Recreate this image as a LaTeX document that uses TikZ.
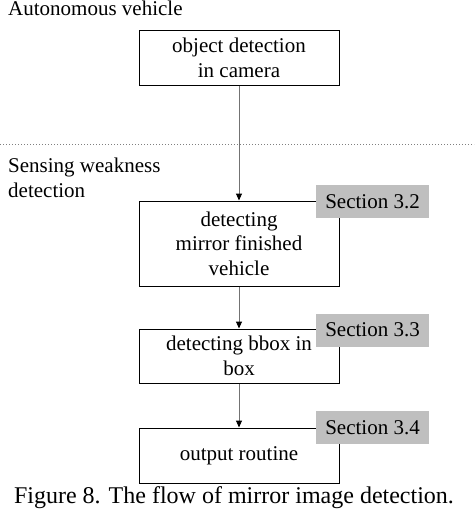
\documentclass[tikz,border=0pt]{standalone}
\usepackage{fontspec}
\setmainfont{Liberation Serif}
\usetikzlibrary{arrows.meta,positioning}
\tikzset{
  flbx/.style={draw=black, line width=1pt, minimum width=200pt, align=center, inner sep=0pt, font=\fontsize{21}{24.5}\selectfont},
  secbx/.style={fill=black!25, minimum width=113pt, minimum height=33pt, inner sep=0pt, font=\fontsize{21}{24}\selectfont},
  flw/.style={draw=black!55, line width=1pt, -{Triangle[length=7pt,width=6pt,color=black]}},
  lbl/.style={inner sep=0pt, align=left, font=\fontsize{21}{25}\selectfont}
}
\begin{document}
\begin{tikzpicture}[x=1pt,y=-1pt]
\useasboundingbox (0,0) rectangle (474,511);
\node[lbl, anchor=base west] (av) at (8,16) {Autonomous vehicle};
\draw[black!50, dotted, line width=1pt] (0,144) -- (474,144);
\node[lbl, anchor=west] (sw) at (8,178) {Sensing weakness\\detection};

\node[flbx, minimum height=54pt] (od) at (239,58) {object detection\\in camera};
\node[flbx, minimum height=85pt] (mf) at (239,243.5) {detecting\\mirror finished\\vehicle};
\node[flbx, minimum height=54pt] (bb) at (239,356) {detecting bbox in\\box};
\node[flbx, minimum height=55pt] (out) at (239,455.5) {output routine};

\node[secbx] (s32) at (372.5,201.5) {Section 3.2};
\node[secbx] (s33) at (372.5,330) {Section 3.3};
\node[secbx] (s34) at (372.5,427.5) {Section 3.4};

\draw[flw] (od) -- (mf);
\draw[flw] (mf) -- (bb);
\draw[flw] (bb) -- (out);

\node[anchor=base, inner sep=0pt, font=\fontsize{24}{28}\selectfont] (cap) at (234,503) {Figure 8. The flow of mirror image detection.};
\end{tikzpicture}
\end{document}
